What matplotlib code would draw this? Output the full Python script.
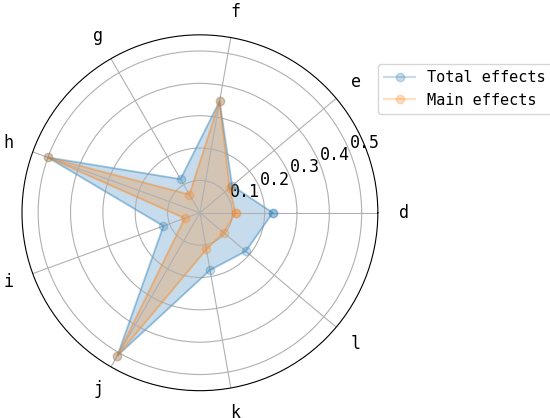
import numpy as np
import matplotlib
matplotlib.use("Agg")
import matplotlib.pyplot as plt

categories = ['d', 'e', 'f', 'g', 'h', 'i', 'j', 'k', 'l']
total = [0.225, 0.13, 0.35, 0.12, 0.50, 0.12, 0.51, 0.18, 0.185]
main = [0.11, 0.12, 0.35, 0.065, 0.50, 0.05, 0.51, 0.115, 0.096]

plt.rcParams['font.family'] = ['DejaVu Sans Mono']
fig = plt.figure(figsize=(5.5, 4.18), dpi=100)
ax = fig.add_axes([0.04, 0.065, 0.647, 0.852], polar=True)
ang = np.deg2rad(np.arange(len(categories)) * 40.0)
a = np.concatenate([ang, ang[:1]])
for vals, c, lab in [(total, '#1f77b4', 'Total effects'), (main, '#ff7f0e', 'Main effects')]:
    v = np.concatenate([vals, vals[:1]])
    ax.plot(a, v, '-o', color=c, alpha=0.25, label=lab, markersize=6)
    ax.fill(a, v, color=c, alpha=0.25)
ax.set_xticks(ang)
ax.set_xticklabels(categories, fontsize=12)
ax.set_ylim(0, 0.55)
ax.set_yticks([0.1, 0.2, 0.3, 0.4, 0.5])
ax.set_yticklabels(['0.1', '0.2', '0.3', '0.4', '0.5'], fontsize=12)
ax.set_rlabel_position(22)
ax.tick_params(axis='x', pad=8)
ax.legend(loc='upper left', bbox_to_anchor=(0.98, 0.94), fontsize=11)
fig.savefig('out.png', dpi=100)
